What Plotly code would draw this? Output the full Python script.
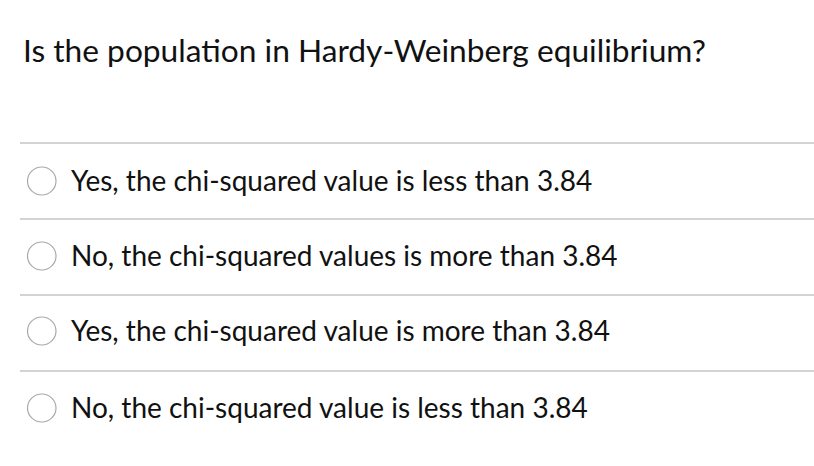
import plotly.graph_objects as go

question = "Is the population in Hardy-Weinberg equilibrium?"
options = [
    "Yes, the chi-squared value is less than 3.84",
    "No, the chi-squared values is more than 3.84",
    "Yes, the chi-squared value is more than 3.84",
    "No, the chi-squared value is less than 3.84",
]
option_y = [180, 255, 330, 407]
divider_y = [143, 219, 295, 371]

W, H = 814, 466
fig = go.Figure()
fig.update_layout(
    width=W, height=H, margin=dict(l=0, r=0, t=0, b=0),
    paper_bgcolor="white", plot_bgcolor="white", showlegend=False,
    xaxis=dict(range=[0, W], visible=False, fixedrange=True),
    yaxis=dict(range=[H, 0], visible=False, fixedrange=True),
)
fig.add_annotation(x=21, y=50, text=question, showarrow=False, xanchor="left",
                   yanchor="middle", font=dict(family="Lato", size=31.7, color="#111111"))
for y in divider_y:
    fig.add_shape(type="line", x0=20, x1=W, y0=y, y1=y,
                  line=dict(color="#d3d3d3", width=2))
for y, t in zip(option_y, options):
    fig.add_shape(type="circle", x0=27.5, x1=56, y0=y - 13, y1=y + 15,
                  line=dict(color="#a8a8a8", width=1.2), fillcolor="white")
    fig.add_annotation(x=69, y=y, text=t, showarrow=False, xanchor="left",
                       yanchor="middle", font=dict(family="Lato", size=28, color="#111111"))
fig.write_html("out.html", config={"displayModeBar": False},
               post_script="document.body.style.margin='0';document.body.style.overflow='hidden';")
